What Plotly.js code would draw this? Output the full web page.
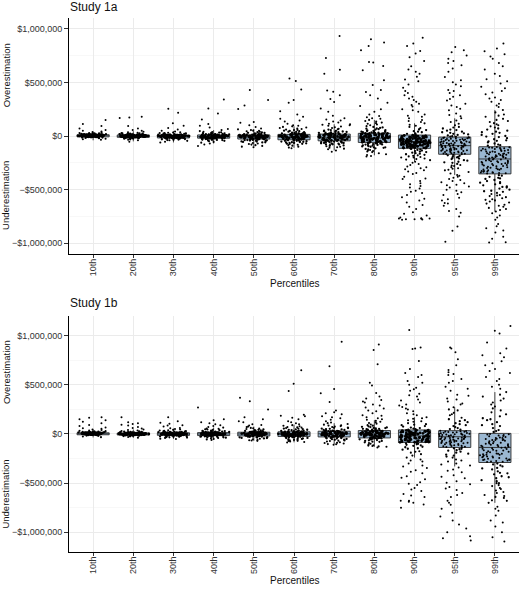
<!DOCTYPE html>
<html>
<head>
<meta charset="utf-8">
<script src="https://cdn.plot.ly/plotly-3.0.1.min.js"></script>
<style>html,body{margin:0;padding:0;background:#fff}#chart{width:520px;height:589px}</style>
</head>
<body>
<div id="chart"></div>
<script>
// Categories and tick labels
const cats = ['10th','20th','30th','40th','50th','60th','70th','80th','90th','95th','99th'];
const yTickVals = [-1000, -500, 0, 500, 1000]; // thousands of dollars
const yTickText = ['\u2212$1,000,000', '\u2212$500,000', '$0', '$500,000', '$1,000,000'];

// Study 1a box statistics (thousands of dollars)
const aQ1     = [-8, -12, -18, -20, -28, -35, -45, -60, -115, -170, -353];
const aMedian = [3, -2, -5, -6, -10, -10, -12, -20, -53, -90, -214];
const aQ3     = [12, 10, 8, 10, 10, 15, 18, 25, 9, -10, -100];
const aLower  = [-40, -50, -60, -70, -100, -110, -135, -180, -239, -363, -704];
const aUpper  = [40, 45, 45, 55, 65, 90, 110, 150, 118, 165, 242];

// Study 1b box statistics (thousands of dollars)
const bQ1     = [-8, -10, -14, -16, -20, -25, -30, -40, -86, -137, -290];
const bMedian = [3, 0, 0, 0, 0, 0, 2, 2, -20, -28, -137];
const bQ3     = [12, 10, 12, 14, 18, 22, 28, 35, 41, 34, 6];
const bLower  = [-35, -40, -50, -60, -70, -85, -105, -130, -240, -330, -700];
const bUpper  = [45, 45, 55, 65, 75, 95, 110, 140, 170, 272, 426];

// Study 1a estimation errors (thousands of dollars)
const a10 = [3,5,-2,8,1,12,-5,0,6,10,-8,4,2,15,-3,7,9,-6,11,1,0,5,13,-1,3,18,-10,6,2,8,-4,20,4,9,-7,1,14,3,-2,6,22,-12,10,0,5,25,-15,7,2,16,-9,4,11,-3,28,8,-18,1,12,6,4,-1,7,2,9,-4,3,11,0,6,-6,13,2,8,-2,5,17,-9,1,10,3,-5,7,19,-1,4,12,-7,2,24,6,-3,9,0,14,-11,5,27,1,8,-14,3,32,-20,10,36,42,48,55,71,93,112,149,-25,-30,-35];
const a20 = [0,-3,4,-6,2,8,-9,1,-1,6,-12,3,10,-5,0,7,-2,12,-8,5,-15,2,9,-4,14,-1,-10,4,16,-7,1,-18,11,3,-3,18,-6,6,-20,0,8,-11,20,2,-14,5,22,-2,-22,9,25,-25,13,-16,4,-7,1,-4,-2,3,-5,0,7,-8,2,-1,10,-4,1,-12,5,-3,13,-6,0,-9,8,-2,15,-13,3,-1,18,-17,6,-5,21,-20,2,-10,24,-24,11,-7,28,30,35,40,-30,-35,-40,48,55,71,93,167,173,180,-53];
const a30 = [-5,-2,3,-8,0,6,-12,-4,2,-15,5,-1,8,-10,-6,1,10,-18,-3,4,-20,7,-7,12,-9,0,-14,3,15,-22,-1,9,-25,5,-11,18,-28,-4,2,20,-16,6,-30,11,-2,24,-8,-6,1,-3,-7,-1,4,-10,-3,7,-13,0,2,-17,-5,9,-21,-2,12,-24,-8,5,-27,1,16,-12,-4,22,-33,-9,3,26,-15,-6,30,-35,14,-13,-40,28,35,42,50,60,75,96,118,217,254,-45,-53,-60,-38,33];
const a40 = [-6,-3,2,-9,0,5,-14,-2,8,-18,3,-5,10,-12,-8,1,14,-22,-1,6,-25,9,-10,16,-4,0,-16,4,20,-28,-7,12,-32,7,-13,22,-35,-2,3,25,-20,5,-38,18,0,28,-11,-6,2,-4,-8,-1,4,-12,-3,9,-15,1,-19,6,-23,-5,13,-27,-9,17,-30,2,-17,21,-33,-7,11,-24,-2,26,-36,-11,7,-14,32,-42,15,-15,-48,35,40,46,55,65,80,96,112,155,211,257,341,-55,-62,-70,-80,-93,-45,38];
const a50 = [-10,-5,2,-15,-2,6,-20,-8,10,-25,3,-12,12,-30,-18,0,15,-35,-4,8,-40,18,-22,5,-45,-1,20,-50,-14,25,-55,-6,28,-60,9,-28,30,-65,-9,35,-3,-33,40,-70,13,-38,45,-75,22,-42,-16,-7,4,-11,1,-24,7,-13,-4,-19,0,-27,5,-9,-36,11,-21,-1,-31,16,-44,-7,-15,24,-52,-3,-26,33,-12,-58,2,-39,8,-17,50,-85,55,62,70,85,100,124,130,251,285,335,428,-92,-99,-105,-80,48];
const a60 = [-10,-3,4,-18,-6,10,-25,0,15,-30,-12,6,20,-38,-20,2,25,-45,-8,12,-52,30,-28,-1,35,-60,-15,8,40,-68,-35,18,45,-75,-4,22,50,-82,-42,14,55,-90,28,-22,60,-48,65,-58,70,32,-65,75,-14,-5,3,-9,11,-26,-2,7,-17,-33,19,-11,1,-7,-19,5,-31,13,-44,-2,24,-56,-13,9,-37,-24,17,-50,-1,38,-64,-10,27,-71,-29,4,-16,47,-40,-6,57,-54,0,80,-72,85,90,100,115,135,160,180,230,310,335,434,512,537,-99,-108,-115,-85,95,145,200];
const a70 = [-12,-4,5,-20,-8,12,-28,0,18,-35,-15,8,25,-42,-22,3,30,-50,-10,14,-58,36,-32,-2,42,-65,-18,10,48,-72,-40,20,55,-80,-6,26,62,-88,-48,16,68,-95,32,-26,75,-55,82,-62,88,38,-70,-16,-3,6,-30,-9,22,-44,1,-24,11,-13,-36,28,-7,-19,-1,-27,9,-39,15,-52,-11,23,-60,-5,33,-68,-21,2,-46,40,-77,-14,51,-84,-29,7,-57,60,-92,-34,17,-64,45,95,-78,100,-100,105,110,125,145,165,190,225,257,316,344,379,412,424,580,617,728,933,-110,-124,-135,-146,-105,115,135,155,-118];
const a80 = [-20,-8,6,-30,-14,15,-40,-2,22,-50,-25,10,30,-60,-35,2,38,-70,-18,20,-80,45,-45,-5,52,-90,-28,12,60,-100,-55,25,68,-110,-10,32,75,-120,-65,18,85,-130,40,-38,92,-75,100,-85,108,48,-95,-22,-12,4,-33,-48,14,-58,0,-27,9,-16,-42,28,-4,-66,35,-52,18,-9,-24,-6,-37,11,-53,-15,26,-71,-1,-44,19,-87,-31,42,-63,-11,55,-97,-19,8,-78,33,-105,-47,64,-26,-115,3,-59,72,-3,-83,47,-36,-13,80,-69,24,-50,-7,115,-105,125,-140,135,-150,150,-160,165,-170,175,186,200,225,250,280,310,350,380,410,428,475,520,614,653,686,690,800,840,871,902,-177,-186,-192,-125,-145,140,120,-135,160];
const a90 = [-53,-40,-65,-20,-80,-5,-95,-30,-110,5,-60,-45,-75,-15,-100,0,-85,-35,-55,-70,-10,-115,-25,-90,8,-50,-105,-38,-68,-2,-120,-58,-82,-28,-48,-12,-98,3,-78,-62,-42,-88,-18,-108,-72,-33,-57,-44,-66,-23,-91,-7,-36,-103,-51,-79,-14,-63,-47,-86,-1,-112,-29,-46,-71,-17,-94,-39,-61,-4,-84,-26,-107,-52,-9,-76,-33,-99,-56,-21,-68,-43,-113,-11,-88,-31,-64,-49,-3,-81,-37,-59,-96,15,-130,25,-140,35,-150,45,-160,55,-170,65,-180,75,-190,85,-200,95,-210,105,-225,118,-240,-135,-145,-165,-175,-185,-125,-155,20,40,60,-195,-215,130,150,165,180,200,225,250,275,300,320,350,380,420,480,527,552,600,650,700,769,793,840,862,915,140,190,240,290,335,365,400,450,510,580,620,735,-250,-270,-290,-310,-330,-355,-380,-400,-420,-440,-465,-490,-510,-530,-549,-570,-600,-620,-642,-680,-710,-740,-766,-770,-775,-778,-781,-772,-768,-200,-220,-260,-300,-285,-345,-395,-450,-520,-585,-660,-725,-760,-776,-320,-480];
const a95 = [-90,-60,-120,-30,-150,-15,-75,-105,-45,-135,-20,-165,-85,-55,-125,-40,-100,-70,-160,-12,-95,-50,-140,-25,-115,-65,-155,-35,-80,-110,-130,-18,-145,-58,-88,-48,-118,-28,-98,-138,-68,-108,-78,-128,-38,-148,-92,-62,-168,-5,-8,-2,-170,-175,-83,-52,-113,-23,-142,-72,-97,-33,-158,-64,-122,-42,-102,-132,-17,-77,-152,-57,-93,-127,-47,-162,-87,-27,-117,10,-180,25,-190,40,-200,55,-215,70,-230,85,-245,100,-260,115,-275,130,-290,145,-305,165,-320,-335,-350,-363,-210,-240,-270,-300,-185,-195,15,30,50,5,20,35,60,80,-205,-225,-250,-280,-315,185,210,240,270,300,330,366,400,430,465,500,550,630,680,700,720,750,780,800,830,195,255,285,345,380,420,480,520,600,660,-380,-400,-420,-440,-460,-480,-500,-525,-550,-575,-600,-625,-650,-680,-716,-750,-843,-884,-986,-390,-430,-470,-510,-540,-590,-630,-700,-370,-410,-455];
const a99 = [-214,-180,-250,-130,-300,-110,-160,-270,-200,-340,-120,-230,-290,-150,-320,-105,-190,-260,-140,-350,-170,-240,-310,-115,-220,-280,-135,-330,-195,-255,-165,-305,-125,-235,-345,-145,-275,-205,-315,-155,-225,-295,-185,-265,-325,-175,-245,-102,-348,-210,-208,-122,-286,-176,-338,-144,-262,-198,-108,-312,-228,-162,-298,-132,-242,-188,-326,-118,-272,-218,-152,-342,-168,-252,-112,-282,-192,-332,-138,-236,-80,-60,-40,-20,0,20,40,60,80,100,120,140,160,180,200,220,242,-90,-70,-30,10,50,150,-50,-10,30,70,110,-85,-45,-5,35,90,130,190,-370,-390,-410,-430,-450,-470,-490,-510,-530,-550,-570,-590,-610,-630,-650,-670,-690,-704,-380,-420,-460,-500,-540,-580,-620,-400,-440,-480,-520,-560,-600,-640,-680,-365,-395,-435,-475,-515,-555,-595,-660,270,300,335,360,390,420,460,490,530,580,620,680,720,763,790,816,862,285,320,350,405,445,510,560,650,740,-740,-780,-820,-860,-900,-938,-958,-990,-992,-760,-840,-880,-720];

// Study 1b estimation errors (thousands of dollars)
const b10 = [2,6,-3,9,0,13,-6,1,5,11,-9,3,1,16,-2,8,10,-5,12,2,-1,4,14,0,4,19,-11,7,3,9,-3,21,5,10,-8,2,15,4,-1,7,23,-13,11,1,6,26,-16,8,3,17,-10,5,12,-4,29,9,-19,2,13,7,3,-2,8,1,10,-5,4,12,-1,6,-7,15,3,9,-3,5,18,-10,2,11,4,-6,8,20,0,5,13,-8,3,25,32,40,52,65,80,92,125,150,165,170,-25,-32,36,45,58,110,140];
const b20 = [1,-2,5,-5,3,9,-8,2,0,7,-11,4,11,-4,1,8,-1,13,-7,6,-14,3,10,-3,15,0,-9,5,17,-6,2,-17,12,4,-2,19,-5,7,-19,1,9,-10,21,3,-13,6,23,-1,-21,10,26,-24,14,-15,5,-6,2,-3,-1,4,-4,1,8,-7,3,0,11,-3,2,-11,6,-2,14,-5,1,-8,9,-1,16,-12,4,0,19,-16,7,-4,22,-19,30,35,45,60,72,85,102,110,120,170,-30,-38,40,55,95];
const b30 = [0,3,-4,6,-8,2,10,-12,5,-2,13,-15,1,8,-6,16,-19,4,-1,11,-22,7,-10,18,-3,0,-25,9,20,-28,-7,14,-31,3,-14,22,-34,-5,6,25,-17,2,-37,12,-9,28,-20,32,-40,15,-4,1,-11,8,-2,2,-3,7,-7,1,12,-11,4,-1,15,-14,6,-5,19,-18,3,-9,23,-23,10,-2,27,-27,0,35,42,50,62,75,90,105,129,170,-48,-52,38,46,58,85,115];
const b40 = [0,4,-5,7,-9,2,12,-13,6,-3,15,-17,1,9,-7,18,-21,5,-1,13,-24,8,-11,20,-4,0,-27,10,23,-30,-8,16,-34,3,-15,25,-38,-6,7,28,-19,2,-41,14,-10,31,-22,35,-44,17,-5,1,-12,9,-2,-26,3,-3,8,-8,1,11,-14,5,-1,16,-18,6,-6,21,-23,2,-10,26,-28,12,-2,30,-33,0,38,42,48,55,65,80,100,120,140,150,270,-50,-55,-60,45,52,70,90,110];
const b50 = [0,5,-6,9,-11,2,14,-16,7,-4,18,-20,1,11,-9,22,-25,6,-2,16,-29,10,-13,25,-5,0,-33,12,28,-37,-10,20,-41,4,-18,31,-45,-7,8,34,-23,3,-49,17,-12,38,-27,42,-53,21,-6,1,-15,11,-3,-31,4,-4,9,-9,2,13,-15,6,-1,19,-21,7,-7,24,-27,3,-12,29,-34,14,-3,36,-40,0,46,-58,50,-63,-70,55,62,70,85,100,120,150,170,249,334,368,58,75,92,130,-66];
const b60 = [0,6,-7,11,-13,3,17,-19,8,-5,22,-24,1,13,-11,27,-30,7,-3,19,-35,12,-16,31,-6,0,-40,15,35,-45,-12,24,-50,5,-22,38,-55,-9,10,42,-28,4,-60,21,-15,46,-33,50,-65,26,-8,2,-18,14,-4,-37,5,-5,10,-10,2,16,-18,7,-2,23,-26,9,-8,29,-32,3,-14,34,-41,17,-4,43,-48,0,55,-58,55,-70,60,-76,-82,65,70,78,-86,90,110,130,150,180,185,195,436,512,648,68,84,100,120,165,-72];
const b70 = [2,8,-8,14,-16,4,20,-22,10,-6,26,-28,1,16,-13,32,-35,9,-3,23,-41,14,-19,37,-7,0,-47,18,42,-53,-14,29,-59,6,-26,46,-65,-10,12,50,-33,5,-71,25,-18,55,-39,60,-77,31,-9,3,-21,17,-4,-44,6,-6,12,-12,3,19,-23,9,-2,28,-31,11,-10,35,-40,4,-17,41,-50,21,-5,52,-58,0,63,-68,65,-84,70,-90,-97,75,80,85,-103,-110,95,110,130,160,180,200,220,240,324,414,457,689,938,88,102,118,145,170,210,-92,-105];
const b80 = [2,10,-10,18,-20,5,25,-28,12,-7,32,-35,1,20,-16,40,-43,11,-4,28,-50,17,-23,45,-9,0,-57,22,52,-64,-18,36,-71,8,-32,56,-78,-13,15,62,-40,6,-85,30,-22,67,-47,73,-92,38,-11,3,-26,21,-5,-54,7,-8,15,-15,4,24,-29,11,-3,35,-39,14,-12,44,-49,5,-21,51,-62,27,-6,60,-70,0,70,-80,9,-36,48,-45,78,-100,84,-108,-115,90,96,105,-122,-130,-137,112,120,135,150,170,190,210,240,270,300,330,360,380,416,494,520,709,853,911,125,145,160,185,230,260,290,320,345,-118,-126];
const b90 = [-20,0,-40,15,-60,30,-75,-10,-30,5,-50,25,-85,-15,10,-35,-65,38,-5,-45,20,-25,-70,-55,35,-80,12,-38,-12,-62,28,-48,3,-22,-78,18,-32,-68,8,-52,40,-2,-42,-82,22,-58,-28,-8,33,-73,-18,-24,2,-44,17,-64,31,-79,-13,-33,7,-53,26,-84,-17,13,-37,-67,36,-6,-47,23,-27,-72,-57,45,55,65,80,95,110,125,140,155,170,-100,-115,-130,-145,-160,-175,-190,-205,-220,-240,100,130,160,-95,-120,-150,-180,50,60,75,90,-92,-105,-110,-135,190,210,230,260,290,320,350,380,410,440,470,500,540,580,620,660,743,863,870,880,1057,250,300,200,275,340,395,455,520,600,-260,-280,-300,-320,-345,-370,-400,-430,-460,-490,-520,-550,-580,-610,-640,-678,-680,-690,-700,-717,-750,-270,-330,-385,-445,-505,-565,-625];
const b95 = [-28,-5,-60,20,-90,-15,-45,10,-110,-35,30,-75,-125,0,-55,-20,-100,15,-135,-40,-70,25,-10,-85,-50,5,-120,-30,-95,-65,32,-8,-115,-25,-80,-130,12,-48,-105,-18,-68,28,-88,-38,-58,-2,-12,-52,-82,-22,18,-102,-42,-72,-132,2,-62,-32,-92,22,-112,-3,-78,-47,-122,8,45,60,80,100,120,140,165,190,215,240,272,-150,-165,-180,-200,-220,-240,-260,-280,-300,-320,-341,70,110,150,200,250,-155,-190,-230,-270,-310,50,90,130,-145,-170,-210,300,330,360,400,440,480,520,560,600,627,650,700,760,830,870,880,310,350,390,460,540,610,-360,-390,-420,-450,-480,-510,-540,-570,-600,-640,-680,-720,-760,-800,-840,-880,-920,-960,-1000,-1041,-1082,-1060,-375,-435,-495,-555,-620,-700];
const b99 = [-137,-100,-180,-60,-220,-20,-250,-80,-160,-120,-270,-40,-200,-5,-140,-240,-90,-285,-30,-170,-110,-260,-50,-210,-150,-70,-230,0,-190,-125,-275,-15,-95,-245,-55,-205,-165,-105,-265,-35,-185,-145,-75,-215,-10,-280,-130,-60,-112,-198,-42,-252,-86,-168,-2,-228,-128,-62,-282,-152,-22,-212,-98,-262,-176,-48,-236,-118,40,80,120,160,200,240,280,320,360,400,426,20,60,100,140,180,220,300,380,30,90,150,260,340,-310,-330,-350,-380,-410,-440,-470,-500,-530,-560,-590,-620,-650,-680,-700,-320,-360,-400,-450,-500,-550,-600,-640,-260,-230,-200,-300,-345,-395,-430,-480,-520,-575,-630,-675,460,500,540,580,620,660,700,740,780,820,870,930,1023,1050,1098,480,560,640,720,800,-740,-780,-830,-880,-940,-1000,-1050,-1092,-760,-900];

const studyA = [a10, a20, a30, a40, a50, a60, a70, a80, a90, a95, a99];
const studyB = [b10, b20, b30, b40, b50, b60, b70, b80, b90, b95, b99];

const FONT = 'Liberation Sans, Arial, Helvetica, sans-serif';
const BOXW = 0.8;

function boxTrace(q1, med, q3, lo, hi, xa, ya) {
  return {
    type: 'box', x: cats, q1: q1, median: med, q3: q3, lowerfence: lo, upperfence: hi,
    xaxis: xa, yaxis: ya, width: BOXW, boxpoints: false,
    fillcolor: '#9ab7d1', line: {color: '#2b2b2b', width: 0.9}, whiskerwidth: 0,
    hoverinfo: 'skip', showlegend: false
  };
}

// Points are split into bands by distance from the box, so that the
// library's density-based jitter spreads every band across the box width.
const BANDS = [
  {key: 'inner', size: 2.8},
  {key: 'innerWide', size: 2.0},
  {key: 'near', size: 2.3},
  {key: 'whisk', size: 2.1},
  {key: 'outer', size: 2.0},
  {key: 'far', size: 2.0}
];
function bandOf(v, q1, q3, lo, hi) {
  if (v >= q1 && v <= q3) return (q3 - q1) > 150 ? 'innerWide' : 'inner';
  const d = v > q3 ? (v - q3) / Math.max(hi - q3, 1) : (q1 - v) / Math.max(q1 - lo, 1);
  if (d <= 0.5) return 'near';
  if (d <= 1) return 'whisk';
  if (d <= 2.5) return 'outer';
  return 'far';
}
function pointTraces(groups, q1, q3, lo, hi, xa, ya) {
  const sets = {};
  BANDS.forEach(b => { sets[b.key] = {x: [], y: []}; });
  groups.forEach((vals, i) => vals.forEach(v => {
    const k = bandOf(v, q1[i], q3[i], lo[i], hi[i]);
    sets[k].x.push(cats[i]); sets[k].y.push(v);
  }));
  return BANDS.map(b => ({
    type: 'box', x: sets[b.key].x, y: sets[b.key].y, xaxis: xa, yaxis: ya,
    width: BOXW, boxpoints: 'all', jitter: 1, pointpos: 0,
    fillcolor: 'rgba(0,0,0,0)', line: {color: 'rgba(0,0,0,0)', width: 0},
    marker: {color: '#000000', size: b.size}, hoverinfo: 'y', showlegend: false
  }));
}

const data = [
  boxTrace(aQ1, aMedian, aQ3, aLower, aUpper, 'x', 'y'),
  ...pointTraces(studyA, aQ1, aQ3, aLower, aUpper, 'x', 'y'),
  boxTrace(bQ1, bMedian, bQ3, bLower, bUpper, 'x2', 'y2'),
  ...pointTraces(studyB, bQ1, bQ3, bLower, bUpper, 'x2', 'y2')
];

function xAxis(anchor) {
  return {
    anchor: anchor, domain: [0, 1], type: 'category',
    categoryorder: 'array', categoryarray: cats, range: [-0.6, 10.6],
    showline: true, linecolor: '#000000', linewidth: 1,
    ticks: 'outside', ticklen: 3, tickwidth: 1, tickcolor: '#333333',
    tickangle: -90, ticklabelstandoff: -3,
    tickfont: {family: FONT, size: 9, color: '#333333'},
    showgrid: true, gridcolor: '#ebebeb', gridwidth: 1, zeroline: false
  };
}
function yAxis(anchor, domain, lim) {
  return {
    anchor: anchor, domain: domain, range: [-lim, lim],
    tickmode: 'array', tickvals: yTickVals, ticktext: yTickText,
    showline: true, linecolor: '#000000', linewidth: 1,
    ticks: 'outside', ticklen: 4, tickwidth: 1, tickcolor: '#333333',
    tickfont: {family: FONT, size: 9, color: '#333333'},
    showgrid: true, gridcolor: '#ebebeb', gridwidth: 1, zeroline: false,
    minor: {tickmode: 'array', tickvals: [-750, -250, 250, 750], showgrid: true, gridcolor: '#f4f4f4', gridwidth: 0.6, ticks: ''}
  };
}

function ann(text, x, y, xref, yref, size, angle, xanchor) {
  return {text: text, x: x, y: y, xref: xref, yref: yref, showarrow: false,
    textangle: angle || 0, xanchor: xanchor || 'center', yanchor: 'middle',
    font: {family: FONT, size: size, color: '#111111'}};
}

const layout = {
  width: 520, height: 589,
  margin: {l: 69, r: 1, t: 18, b: 37},
  paper_bgcolor: '#ffffff', plot_bgcolor: '#ffffff',
  showlegend: false, boxmode: 'overlay',
  font: {family: FONT},
  xaxis: xAxis('y'),
  yaxis: yAxis('x', [0.558, 1], 1100),
  xaxis2: xAxis('y2'),
  yaxis2: yAxis('x2', [0, 0.442], 1200),
  annotations: [
    ann('Study 1a', -0.002, 1.021, 'paper', 'paper', 12, 0, 'left'),
    ann('Study 1b', -0.002, 0.4654, 'paper', 'paper', 12, 0, 'left'),
    ann('Overestimation', -0.14, 567, 'paper', 'y', 9.5, -90),
    ann('Underestimation', -0.14, -549, 'paper', 'y', 9.5, -90),
    ann('Overestimation', -0.14, 630, 'paper', 'y2', 9.5, -90),
    ann('Underestimation', -0.14, -606, 'paper', 'y2', 9.5, -90),
    ann('Percentiles', 0.501, 0.5037, 'paper', 'paper', 10, 0),
    ann('Percentiles', 0.501, -0.0537, 'paper', 'paper', 10, 0)
  ]
};

Plotly.newPlot('chart', data, layout, {displayModeBar: false, staticPlot: true});
</script>
</body>
</html>
